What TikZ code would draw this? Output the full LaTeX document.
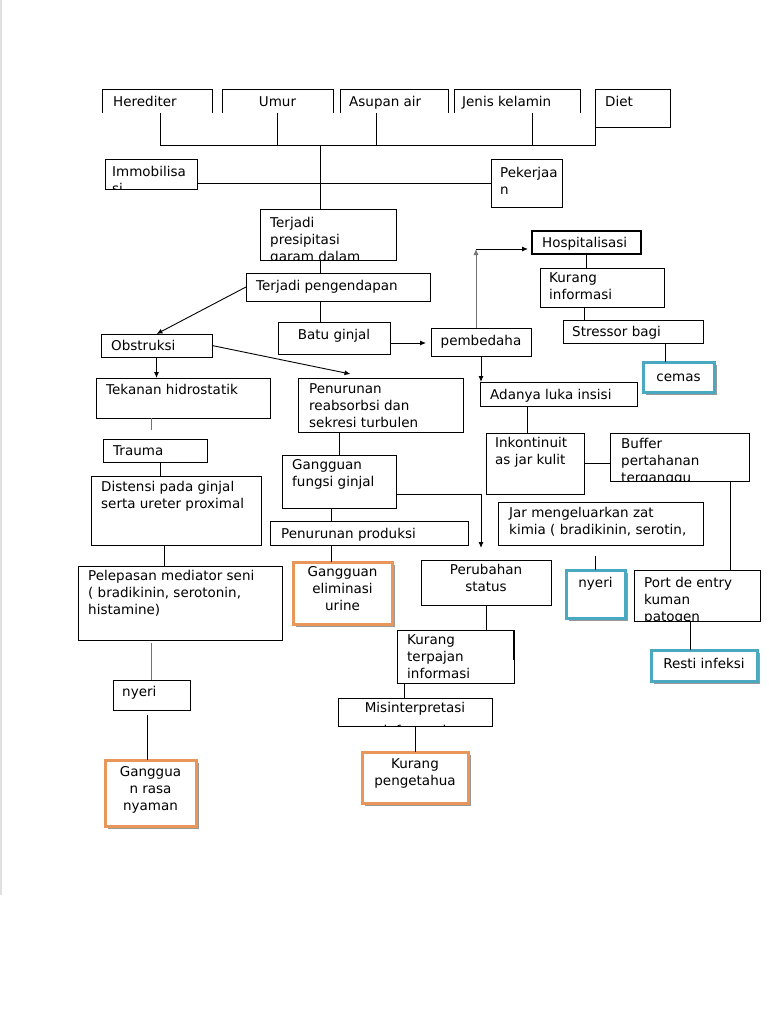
\documentclass[tikz,border=0pt]{standalone}
\usepackage{fontspec}
\setmainfont{DejaVu Sans}
\usetikzlibrary{arrows.meta, shadows, positioning}
\definecolor{boxorange}{HTML}{E8965A}
\definecolor{boxteal}{HTML}{4AA8C0}

% text of a box, clipped to the box
\newcommand{\boxtxt}[4]{%
  \begin{scope}
    \clip (#1.south west) rectangle (#1.north east);
    \node[txt, anchor=north west] (#1-t) at ([shift={(#2pt,-#3pt)}]#1.north west) {#4};
  \end{scope}}
\newcommand{\boxtxtc}[3]{%
  \begin{scope}
    \clip (#1.south west) rectangle (#1.north east);
    \node[txt, anchor=north, align=center] (#1-t) at ([yshift=-#2pt]#1.north) {#3};
  \end{scope}}

\tikzset{
  box/.style={draw, line width=1pt, fill=white, anchor=north west, inner sep=0pt, outer sep=0pt},
  topbox/.style={box, draw=none},
  orangebox/.style={box, draw=boxorange, line width=3pt,
    drop shadow={shadow xshift=2.5pt, shadow yshift=-2.5pt, fill=black!40, opacity=1}},
  tealbox/.style={orangebox, draw=boxteal},
  txt/.style={inner sep=0pt, align=left, execute at begin node=\strut},
  link/.style={line width=0.9pt},
  greylink/.style={link, draw=black!55},
  arr/.style={link, -{Latex[length=6pt, width=5pt]}}
}

\begin{document}
\begin{tikzpicture}[x=1pt, y=-1pt, every node/.style={font=\fontsize{13.5}{17}\selectfont}]
        \useasboundingbox (0,0) rectangle (768,1024);
        \fill[white] (0,0) rectangle (768,1024);
        \draw[black!12, line width=1.5pt] (1,0) -- (1,895);

        % causes
        \node[topbox, minimum width=110pt, minimum height=23pt] (hered) at (102,90) {};
        \node[topbox, minimum width=111pt, minimum height=23pt] (umur) at (222,90) {};
        \node[topbox, minimum width=108pt, minimum height=23pt] (asupan) at (340,90) {};
        \node[topbox, minimum width=126pt, minimum height=23pt] (jenis) at (454,90) {};
        \node[box, minimum width=75pt, minimum height=38pt] (diet) at (595,90) {};
        \foreach \n in {hered, umur, asupan, jenis}
            \draw[line width=1pt] (\n.south west) |- (\n.north east) -- (\n.south east);
        \node[box, minimum width=92pt, minimum height=30pt] (immob) at (105,160) {};
        \node[box, minimum width=71pt, minimum height=48pt] (pekerj) at (491,160) {};

        % centre column
        \node[box, minimum width=136pt, minimum height=50pt] (presip) at (260,210) {};
        \node[box, minimum width=184pt, minimum height=28pt] (endap) at (246,273) {};
        \node[box, minimum width=112pt, minimum height=32pt] (batu) at (278,322) {};
        \node[box, minimum width=100pt, minimum height=28pt] (bedah) at (431,328) {};

        % right column
        \node[box, line width=1.6pt, minimum width=109pt, minimum height=23pt] (hosp) at (532,231) {};
        \node[box, minimum width=124pt, minimum height=39pt] (kurinf) at (540,268) {};
        \node[box, minimum width=140pt, minimum height=23pt] (stress) at (563,320) {};
        \node[tealbox, minimum width=71pt, minimum height=30pt] (cemas) at (643,362) {};
        \node[box, minimum width=157pt, minimum height=24pt] (luka) at (480,382) {};
        \node[box, minimum width=98pt, minimum height=61pt] (inkont) at (486,433) {};
        \node[box, minimum width=139pt, minimum height=48pt] (buffer) at (610,433) {};
        \node[box, minimum width=205pt, minimum height=43pt] (jar) at (498,502) {};
        \node[tealbox, minimum width=59pt, minimum height=48pt] (nyeri2) at (566,570) {};
        \node[box, minimum width=126pt, minimum height=51pt] (port) at (634,570) {};
        \node[tealbox, minimum width=106pt, minimum height=31pt] (resti) at (651,650) {};

        % left column
        \node[box, minimum width=111pt, minimum height=23pt] (obstr) at (101,334) {};
        \node[box, minimum width=174pt, minimum height=40pt] (tekan) at (96,378) {};
        \node[box, minimum width=104pt, minimum height=23pt] (trauma) at (103,439) {};
        \node[box, minimum width=170pt, minimum height=69pt] (dist) at (91,476) {};
        \node[box, minimum width=204pt, minimum height=74pt] (lepas) at (78,566) {};
        \node[box, minimum width=77pt, minimum height=30pt] (nyeri1) at (113,680) {};
        \node[orangebox, minimum width=91pt, minimum height=66pt] (rasa) at (105,760) {};

        % middle column
        \node[box, minimum width=165pt, minimum height=54pt] (penur) at (298,378) {};
        \node[box, minimum width=114pt, minimum height=53pt] (fungsi) at (282,455) {};
        \node[box, minimum width=198pt, minimum height=24pt] (produk) at (270,521) {};
        \node[orangebox, minimum width=99pt, minimum height=62pt] (elim) at (293,562) {};
        \node[box, minimum width=130pt, minimum height=45pt] (perub) at (421,560) {};
        \node[box, minimum width=117pt, minimum height=53pt] (terpaj) at (397,630) {};
        \node[box, minimum width=154pt, minimum height=28pt] (misint) at (338,698) {};
        \node[orangebox, minimum width=106pt, minimum height=51pt] (tahu) at (362,752) {};
        \draw[line width=2.5pt] (terpaj.north east) -- ([yshift=-30pt]terpaj.north east);

        % texts
        \boxtxt{hered}{11}{4.6}{Herediter}
        \boxtxtc{umur}{4.6}{Umur}
        \boxtxt{asupan}{9}{4.6}{Asupan air}
        \boxtxt{jenis}{8}{4.6}{Jenis kelamin}
        \boxtxt{diet}{10}{4.6}{Diet}
        \boxtxt{immob}{7}{6}{Immobilisa\\si}
        \boxtxt{pekerj}{9}{7.1}{Pekerjaa\\n}
        \boxtxt{presip}{10}{7.5}{Terjadi\\presipitasi\\garam dalam}
        \boxtxt{endap}{10}{5.1}{Terjadi pengendapan}
        \boxtxtc{batu}{5.1}{Batu ginjal}
        \boxtxtc{bedah}{5.1}{pembedaha}
        \boxtxt{hosp}{10}{4.1}{Hospitalisasi}
        \boxtxt{kurinf}{9}{4.1}{Kurang\\informasi}
        \boxtxt{stress}{9}{4.1}{Stressor bagi}
        \boxtxtc{cemas}{7.1}{cemas}
        \boxtxt{luka}{10}{5.1}{Adanya luka insisi}
        \boxtxt{inkont}{9}{4.1}{Inkontinuit\\as jar kulit}
        \boxtxt{buffer}{11}{5}{Buffer\\pertahanan\\terganggu}
        \boxtxt{jar}{11}{5.1}{Jar mengeluarkan zat\\kimia ( bradikinin, serotin,}
        \boxtxtc{nyeri2}{5.1}{nyeri}
        \boxtxt{port}{10}{7}{Port de entry\\kuman\\patogen}
        \boxtxtc{resti}{6.1}{Resti infeksi}
        \boxtxt{obstr}{10}{4.1}{Obstruksi}
        \boxtxt{tekan}{10}{4.1}{Tekanan hidrostatik}
        \boxtxt{trauma}{10}{4.1}{Trauma}
        \boxtxt{dist}{10}{5.1}{Distensi pada ginjal\\serta ureter proximal}
        \boxtxt{lepas}{10}{4.1}{Pelepasan mediator seni\\( bradikinin, serotonin,\\histamine)}
        \boxtxt{nyeri1}{9}{4.1}{nyeri}
        \boxtxtc{rasa}{6.1}{Ganggua\\n rasa\\nyaman}
        \boxtxt{penur}{11}{5.1}{Penurunan\\reabsorbsi dan\\sekresi turbulen}
        \boxtxt{fungsi}{10}{4.1}{Gangguan\\fungsi ginjal}
        \boxtxt{produk}{11}{5.1}{Penurunan produksi}
        \boxtxtc{elim}{4.1}{Gangguan\\eliminasi\\urine}
        \boxtxtc{perub}{4.1}{Perubahan\\status}
        \boxtxt{terpaj}{10}{4.1}{Kurang\\terpajan\\informasi}
        \boxtxtc{misint}{4.1}{Misinterpretasi\\[6pt]informasi}
        \boxtxtc{tahu}{6.1}{Kurang\\pengetahua}

        % top connectors
        \coordinate (bus) at (320,145);
        \foreach \n/\dx in {hered/3, umur/0, asupan/-18, jenis/15}
            \draw[link] ([xshift=\dx pt]\n.south) -- ([xshift=\dx pt]\n.south |- bus);
        \draw[link] ([xshift=3pt]hered.south |- bus) -- (diet.south west |- bus) -- (diet.south west);
        \draw[link] (bus) -- (bus |- presip.north);
        \draw[link] ([yshift=-8pt]immob.east) -- ([yshift=-8pt]immob.east -| pekerj.west);

        % centre and right connectors
        \draw[link] (bus |- presip.south) -- (bus |- endap.north);
        \draw[link] (bus |- endap.south) -- (bus |- batu.north);
        \draw[arr, shorten >=5pt] ([yshift=-5pt]batu.east) -- ([yshift=-5pt]batu.east -| bedah.west);
        \coordinate (turn) at (476,249);
        \draw[arr, draw=black!55] ([xshift=-5pt]bedah.north) -- (turn);
        \draw[arr, shorten >=4pt] (turn) -- (turn -| hosp.west);
        \draw[link] (hosp.south) -- (hosp.south |- kurinf.north);
        \draw[link] ([xshift=-18pt]kurinf.south) -- ([xshift=-18pt]kurinf.south |- stress.north);
        \draw[link] ([xshift=-13pt]cemas.north) -- ([xshift=-13pt]cemas.north |- stress.south);
        \draw[arr] (bedah.south) -- (bedah.south |- luka.north);
        \draw[link] ([xshift=-8pt]inkont.north) -- ([xshift=-8pt]inkont.north |- luka.south);
        \draw[link] (inkont.east) -- (inkont.east -| buffer.west);
        \draw[link] ([xshift=33pt]port.north) -- ([xshift=33pt]port.north |- buffer.south);
        \draw[link, shorten >=11pt] (nyeri2.north) -- (nyeri2.north |- jar.south);
        \draw[link] ([xshift=-7pt]port.south) -- ([xshift=-7pt]port.south |- resti.north);

        % left connectors
        \draw[arr] (endap.west) -- (obstr.north);
        \draw[arr] (obstr.east) -- ([xshift=-30pt, yshift=4pt]penur.north);
        \draw[arr] (obstr.south) -- (obstr.south |- tekan.north);
        \draw[greylink, shorten >=9pt] ([xshift=-32pt]tekan.south) -- ([xshift=-32pt]tekan.south |- trauma.north);
        \draw[link] ([xshift=5pt]trauma.south) -- ([xshift=5pt]trauma.south |- dist.north);
        \draw[link] ([xshift=-12pt]dist.south) -- ([xshift=-12pt]dist.south |- lepas.north);
        \draw[greylink, shorten <=3pt] ([xshift=-29pt]lepas.south) -- ([xshift=-29pt]lepas.south |- nyeri1.north);
        \draw[link, shorten <=5pt] ([xshift=-4.5pt]nyeri1.south) -- ([xshift=-4.5pt]nyeri1.south |- rasa.north);

        % middle connectors
        \draw[link] (fungsi.north) -- (fungsi.north |- penur.south);
        \draw[arr] ([yshift=-12.5pt]fungsi.east) -| ([xshift=-5pt, yshift=12pt]perub.north);
        \draw[link] ([xshift=-8pt]fungsi.south) -- ([xshift=-8pt]fungsi.south |- produk.north);
        \draw[link] ([xshift=-11.5pt]elim.north) -- ([xshift=-11.5pt]elim.north |- produk.south);
        \draw[link] (perub.south) -- (perub.south |- terpaj.north);
        \draw[link] ([xshift=-11pt]misint.north) -- ([xshift=-11pt]misint.north |- terpaj.south);
        \draw[link] (tahu.north) -- (tahu.north |- misint.south);
    \end{tikzpicture}
\end{document}
